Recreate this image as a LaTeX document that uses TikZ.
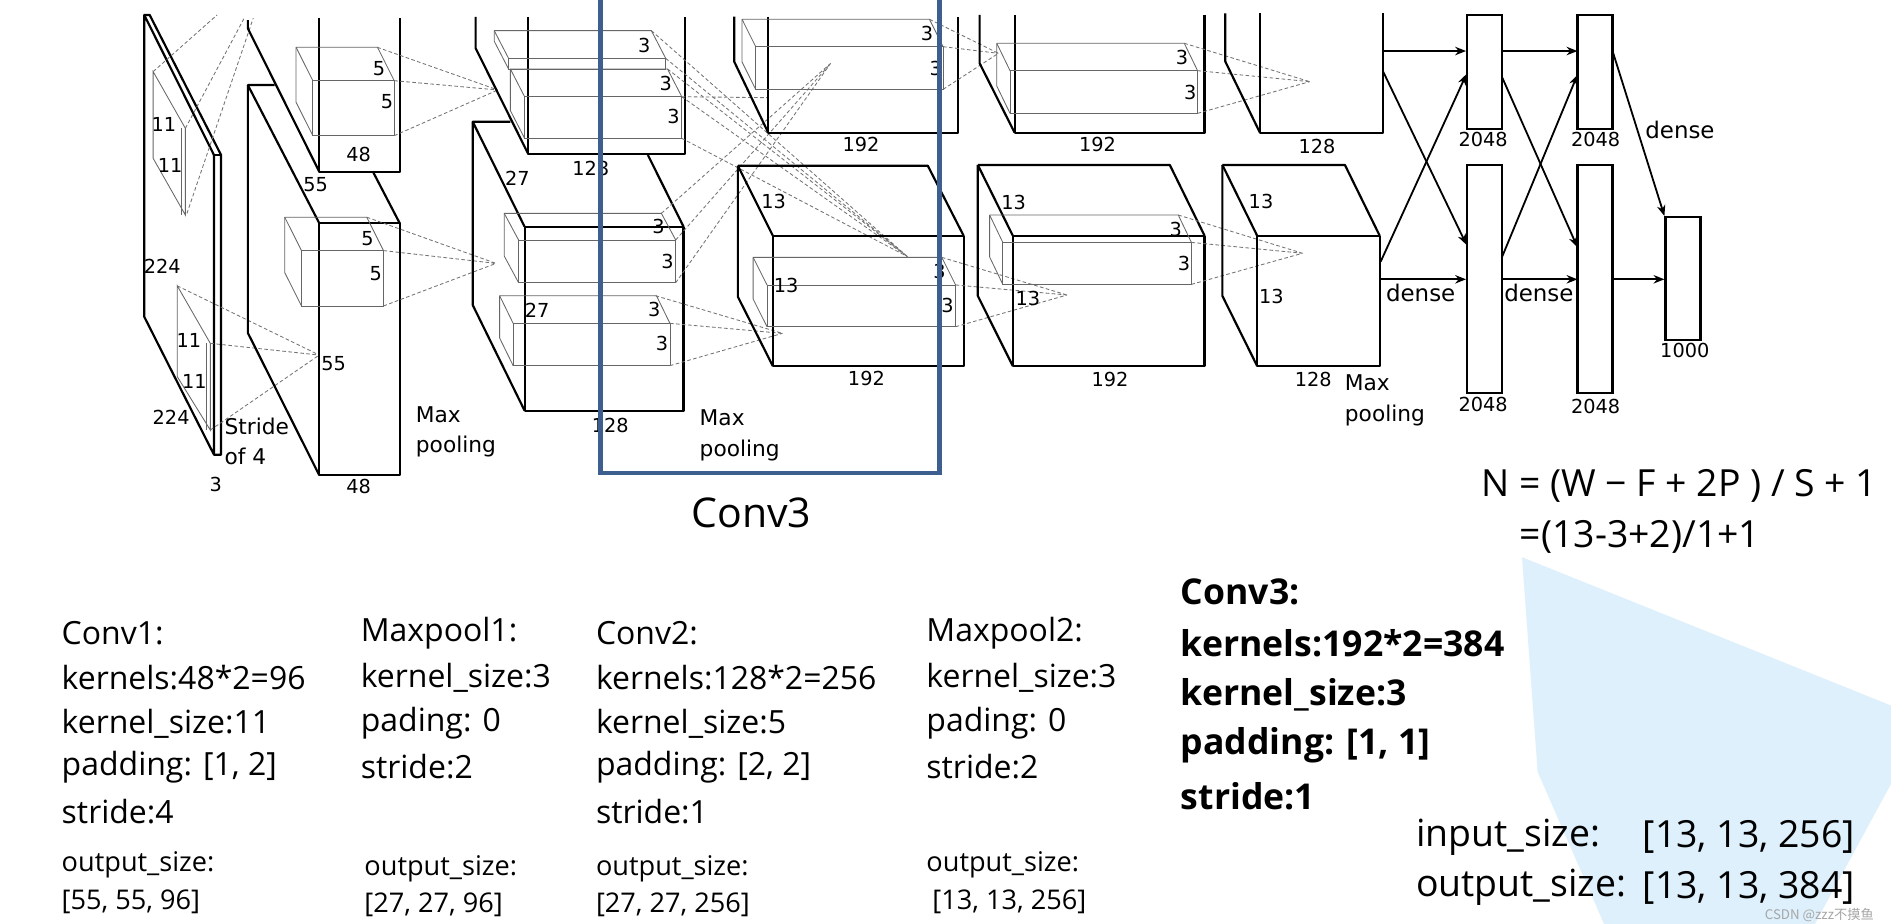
\documentclass[tikz,border=0pt]{standalone}
\usepackage{fontspec}
\setmainfont{Open Sans}
\newfontfamily\djs{DejaVu Sans}
\newfontfamily\cjkf{Noto Sans CJK SC}
\usetikzlibrary{arrows.meta}
\definecolor{bluebox}{HTML}{3C5F8F}
\definecolor{paleblue}{HTML}{DDF0FB}
\newcommand\kb[6]{% back top-left (#1,#2), front top-left (#3,#4), front bottom-right (#5,#6)
  \pgfmathsetmacro\dx{#3-#1}\pgfmathsetmacro\dy{#4-#2}
  \draw[kern] (#1,#2) -- (#5-\dx,#2) -- (#5,#4);
  \draw[kern] (#1,#2) -- (#3,#4);
  \draw[kern] (#1,#2) -- (#1,#6-\dy) -- (#3,#6);
  \draw[kern] (#3,#4) rectangle (#5,#6);}
\begin{document}
\begin{tikzpicture}[x=1pt,y=-1pt,
  box/.style={line width=1.8pt,line join=round},
  kern/.style={line width=0.7pt,draw=black!60},
  dsh/.style={line width=0.7pt,draw=black!55,dash pattern=on 3pt off 2pt},
  lab/.style={font=\djs\fontsize{16}{18}\selectfont,inner sep=0pt},
  arr/.style={line width=1.5pt,-{Stealth[length=9pt,width=7pt]}},
  txt/.style={font=\fontsize{26.5}{30}\selectfont,anchor=west,inner sep=0pt},
  stxt/.style={font=\fontsize{22.5}{26}\selectfont,anchor=west,inner sep=0pt},
  btxt/.style={font=\bfseries\fontsize{29.5}{34}\selectfont,anchor=west,inner sep=0pt},
  ltxt/.style={font=\fontsize{31}{34}\selectfont,anchor=west,inner sep=0pt}]
\useasboundingbox (0,0) rectangle (1568,766);
\fill[white] (0,0) rectangle (1568,766);
\fill[paleblue] (1262,462) -- (1568,585) -- (1568,650) -- (1505,766) -- (1330,766) -- (1275,640) -- cycle;
% ---------- input ----------
\draw[box] (119.6,12.4) -- (177.4,128.5) -- (177.4,377) -- (119.6,262.6) -- cycle;
\draw[box] (119.6,12.4) -- (124.1,12.4) -- (183.3,128.5) -- (183.3,377) -- (177.4,377);
\draw[box] (177.4,128.5) -- (183.3,128.5);
\draw[kern] (127,59.4) -- (153.7,106.4) -- (153.7,178.3) -- (127,131.3) -- cycle;
\draw[kern] (150.7,106.4) -- (150.7,178.3);
\draw[kern] (147,237) -- (174.4,284.7) -- (174.4,356.6) -- (147,312.3) -- cycle;
\draw[kern] (171,284.7) -- (171,356.6);
\draw[dsh] (127,59.4) -- (180,12.4) (153.7,106.4) -- (202.5,15) (155,177) -- (210,15);
\coordinate (p55) at (264.7,294.4);
\draw[dsh] (147,237) -- (p55) (174.4,284.7) -- (p55) (174.4,356.6) -- (p55);
\node[lab] at (135.9,103.6) {11};
\node[lab] at (141,137.4) {11};
\node[lab] at (134.5,221) {224};
\node[lab] at (156.7,282) {11};
\node[lab] at (161.1,316) {11};
\node[lab] at (141.9,346) {224};
\node[lab] at (178.9,402) {3};
\node[lab,anchor=west,align=left,font=\djs\fontsize{18}{25}\selectfont] at (186,366) {Stride\\of 4};
% ---------- conv1 ----------
\draw[box] (205.5,16.6) -- (205.5,23.5) -- (264.7,142.3);
\draw[box] (264.7,15.2) -- (264.7,142.3) -- (331.4,142.3) -- (331.4,15.2);
\draw[box] (227.7,70.5) -- (205.5,70.5) -- (205.5,276) -- (264.7,394);
\draw[box] (205.5,70.5) -- (264.7,185);
\draw[box] (309.2,142.3) -- (331.4,185);
\draw[box] (264.7,185) rectangle (331.4,394);
\kb{245.5}{39.2}{259.4}{66.9}{326.9}{112.5}
\kb{236.1}{180.1}{250}{207.8}{318}{253.7}
\coordinate (c2u) at (412.8,74.6);
\coordinate (c2l) at (411.3,218.4);
\draw[dsh] (312.8,39.2) -- (c2u) (326.9,66.9) -- (c2u) (326.9,112.5) -- (c2u);
\draw[dsh] (304.1,180.1) -- (c2l) (318,207.8) -- (c2l) (318,253.7) -- (c2l);
\node[lab] at (314.2,56.7) {5};
\node[lab] at (321,84.3) {5};
\node[lab] at (297.3,128.5) {48};
\node[lab] at (261.8,153.4) {55};
\node[lab] at (304.7,197.6) {5};
\node[lab] at (311.5,226.6) {5};
\node[lab] at (276.6,301.3) {55};
\node[lab] at (297.3,403.5) {48};
\node[lab,anchor=west,align=left,font=\djs\fontsize{18}{25}\selectfont] at (344.7,358) {Max\\pooling};
% ---------- conv2 ----------
\draw[box] (394.4,14) -- (394.4,40) -- (438,127.7);
\draw[box] (438,14) -- (438,127.7) -- (568.3,127.7) -- (568.3,14);
\draw[box] (423.2,101) -- (392,101) -- (392,253) -- (435,340.5);
\draw[box] (392,101) -- (435,188);
\draw[box] (537.2,128.5) -- (566.8,188);
\draw[box] (435,188) rectangle (566.8,340.5);
\kb{409.8}{25.4}{421.7}{48.4}{552}{57.2}
\kb{423.2}{57.2}{435}{80.2}{565.3}{114.7}
\kb{418.1}{176.9}{430}{199}{560.3}{234.4}
\kb{414.3}{245.2}{425.5}{268.1}{555.5}{303.2}
\coordinate (c3u) at (637,81);
\coordinate (c3l) at (752.5,212.8);
\coordinate (c3x) at (688.8,52.5);
\coordinate (c3d) at (648.8,276.4);
\draw[dsh] (540.1,25.4) -- (c3l) (552,48.4) -- (c3l) (553.5,57.2) -- (c3l);
\draw[dsh] (565.3,80.2) -- (c3u) (565.3,114.7) -- (c3l) (565.3,80.2) -- (c3l);
\draw[dsh] (548.4,176.9) -- (c3x) (560.3,199) -- (c3x) (560.3,234.4) -- (c3x);
\draw[dsh] (543.6,245.2) -- (c3d) (555.5,268.1) -- (c3d) (555.5,303.2) -- (c3d);
\node[lab] at (534.2,37.3) {3};
\node[lab] at (552,69) {3};
\node[lab] at (558.5,96.7) {3};
\node[lab] at (489.8,139.6) {128};
\node[lab] at (429.1,147.9) {27};
\node[lab] at (546,188) {3};
\node[lab] at (553.5,217) {3};
\node[lab] at (445.4,257) {27};
\node[lab] at (542.5,257) {3};
\node[lab] at (549,284.7) {3};
\node[lab] at (506,352.4) {128};
\node[lab,anchor=west,align=left,font=\djs\fontsize{18}{25}\selectfont] at (580,361) {Max\\pooling};
% ---------- conv3 ----------
\draw[box] (608.8,13.8) -- (608.8,51.1) -- (637,110);
\draw[box] (637,13.8) -- (637,110) -- (794.5,110) -- (794.5,13.8);
\kb{615.3}{16}{626.6}{38.7}{782}{74.1}
\draw[box] (611.8,137.4) -- (769.3,137.4) -- (799,195.4);
\draw[box] (611.8,137.4) -- (640.8,195.4);
\draw[box] (611.8,137.4) -- (611.8,246) -- (640.8,303.5);
\draw[box] (640.8,195.4) rectangle (799,303.5);
\kb{624.5}{213.4}{636}{236.3}{792.4}{270.9}
\coordinate (c4u) at (827.9,44.2);
\coordinate (c4l) at (884.8,244.6);
\draw[dsh] (770.7,16) -- (c4u) (782,38.7) -- (c4u) (782,74.1) -- (c4u);
\draw[dsh] (780.9,213.4) -- (c4l) (792.4,236.3) -- (c4l) (792.4,270.9) -- (c4l);
\node[lab] at (768.7,27.6) {3};
\node[lab] at (776,56.7) {3};
\node[lab] at (714,119.4) {192};
\node[lab] at (641.4,166.7) {13};
\node[lab] at (651.8,237) {13};
\node[lab] at (779,225) {3};
\node[lab] at (785.6,253.7) {3};
\node[lab] at (718.4,313.7) {192};
% ---------- conv4 ----------
\draw[box] (812.3,12.4) -- (812.3,52.5) -- (841.3,110);
\draw[box] (841.3,12.4) -- (841.3,110) -- (998.8,110) -- (998.8,12.4);
\kb{826.5}{35.9}{837.5}{58.6}{993}{94}
\draw[box] (810.8,136.8) -- (970,136.8) -- (998.8,195.4);
\draw[box] (810.8,136.8) -- (839.8,195.4);
\draw[box] (810.8,136.8) -- (810.8,245.4) -- (839.8,303.5);
\draw[box] (839.8,195.4) rectangle (998.8,303.5);
\kb{820.6}{178.3}{831.5}{201}{987.9}{235.8}
\coordinate (c5u) at (1086,67.7);
\coordinate (c5l) at (1080,210);
\draw[dsh] (982,35.9) -- (c5u) (993,58.6) -- (c5u) (993,94) -- (c5u);
\draw[dsh] (977,178.3) -- (c5l) (987.9,201) -- (c5l) (987.9,235.8) -- (c5l);
\node[lab] at (980.2,47.5) {3};
\node[lab] at (987,76.6) {3};
\node[lab] at (910,120.2) {192};
\node[lab] at (840.4,167.8) {13};
\node[lab] at (975,190) {3};
\node[lab] at (981.7,218.4) {3};
\node[lab] at (852.3,247.4) {13};
\node[lab] at (920.4,315) {192};
% ---------- conv5 ----------
\draw[box] (1016,11) -- (1016,51) -- (1044.7,110);
\draw[box] (1044.7,11) -- (1044.7,110) -- (1146.9,110) -- (1146.9,11);
\draw[box] (1013.6,136.8) -- (1115.2,136.8) -- (1144,195.4);
\draw[box] (1013.6,136.8) -- (1042.4,195.4);
\draw[box] (1013.6,136.8) -- (1013.6,245.4) -- (1042.4,303.5);
\draw[box] (1042.4,195.4) rectangle (1144,303.5);
\node[lab] at (1092,121.6) {128};
\node[lab] at (1045.6,167.2) {13};
\node[lab] at (1054.2,246) {13};
\node[lab] at (1089,315) {128};
\node[lab,anchor=west,align=left,font=\djs\fontsize{18}{25}\selectfont] at (1115,332) {Max\\pooling};
% ---------- dense ----------
\node[draw,line width=1.8pt,minimum width=29pt,minimum height=95pt,inner sep=0pt] (f1u) at (1231,59.6) {};
\node[draw,line width=1.8pt,minimum width=29pt,minimum height=189pt,inner sep=0pt] (f1l) at (1231,231.4) {};
\node[draw,line width=1.8pt,minimum width=29pt,minimum height=95pt,inner sep=0pt] (f2u) at (1322.5,59.6) {};
\node[draw,line width=1.8pt,minimum width=29pt,minimum height=189pt,inner sep=0pt] (f2l) at (1322.5,231.4) {};
\node[draw,line width=1.8pt,minimum width=29pt,minimum height=102pt,inner sep=0pt] (out) at (1395.5,231) {};
\node[lab] at (1229.8,116) {2048};
\node[lab] at (1229.8,335) {2048};
\node[lab] at (1323,116) {2048};
\node[lab] at (1323,337) {2048};
\node[lab] at (1397,291) {1000};
\coordinate (a1) at (1146.9,42.3);
\coordinate (a2) at (1146.9,59.4);
\coordinate (a3) at (1144.8,217);
\coordinate (a4) at (1144.8,231.6);
\draw[arr] (a1) -- (f1u.west |- a1);
\draw[arr] (a2) -- (1216,203);
\draw[arr] (a3) -- (1216,61.4);
\draw[arr] (a4) -- (f1l.west |- a4);
\draw[arr] (1245.5,42.3) -- (1308,42.3);
\draw[arr] (1245.5,64) -- (1308,205);
\draw[arr] (1245.5,213) -- (1308,62);
\draw[arr] (1245.5,231.6) -- (1308,231.6);
\draw[arr] (1337,231.6) -- (out.west |- 0,231.6);
\draw[arr] (1337,42) -- (out.north west);
\node[lab,font=\djs\fontsize{19}{20}\selectfont] at (1178,243) {dense};
\node[lab,font=\djs\fontsize{19}{20}\selectfont] at (1276,243) {dense};
\node[lab,font=\djs\fontsize{19}{20}\selectfont] at (1393,108) {dense};
% ---------- blue box ----------
\draw[bluebox,line width=3.5pt] (498,-5) -- (498,392.5) -- (779,392.5) -- (779,-5);
\node[font=\fontsize{34}{38}\selectfont,inner sep=0pt] (c3t) at (623,425) {Conv3};
% ---------- texts ----------
\node[txt] at (51,525) {Conv1:};
\node[txt] at (51,562) {kernels:48*2=96};
\node[txt] at (51,600) {kernel\_size:11};
\node[txt] at (51,636) {padding: [1, 2]};
\node[txt] at (51,673) {stride:4};
\node[stxt] at (51,717) {output\_size:};
\node[stxt] at (51,748) {[55, 55, 96]};
\node[txt] at (299,525) {Maxpool1:};
\node[txt] at (299,562) {kernel\_size:3};
\node[txt] at (299,600) {pading: 0};
\node[txt] at (299,636) {stride:2};
\node[stxt] at (302,720) {output\_size:};
\node[stxt] at (302,750) {[27, 27, 96]};
\node[txt] at (494,525) {Conv2:};
\node[txt] at (494,562) {kernels:128*2=256};
\node[txt] at (494,600) {kernel\_size:5};
\node[txt] at (494,636) {padding: [2, 2]};
\node[txt] at (494,673) {stride:1};
\node[stxt] at (494,720) {output\_size:};
\node[stxt] at (494,750) {[27, 27, 256]};
\node[txt] at (768,525) {Maxpool2:};
\node[txt] at (768,562) {kernel\_size:3};
\node[txt] at (768,600) {pading: 0};
\node[txt] at (768,636) {stride:2};
\node[stxt] at (768,717) {output\_size:};
\node[stxt] at (773,748) {[13, 13, 256]};
\node[btxt] at (979,491) {Conv3:};
\node[btxt] at (979,533) {kernels:192*2=384};
\node[btxt] at (979,576) {kernel\_size:3};
\node[btxt] at (979,618) {padding: [1, 1]};
\node[btxt] at (979,660) {stride:1};
\node[ltxt] at (1174,694) {input\_size:};
\node[ltxt] at (1362,694) {[13, 13, 256]};
\node[ltxt] at (1174,736) {output\_size:};
\node[ltxt] at (1362,736) {[13, 13, 384]};
\node[ltxt] at (1228,403) {N = (W − F + 2P ) / S + 1};
\node[ltxt] at (1260,445) {=(13-3+2)/1+1};
\node[anchor=east,inner sep=0pt,text=black!35,font=\cjkf\fontsize{11}{12}\selectfont] at (1554,759) {CSDN @zzz不摸鱼};
\end{tikzpicture}
\end{document}
